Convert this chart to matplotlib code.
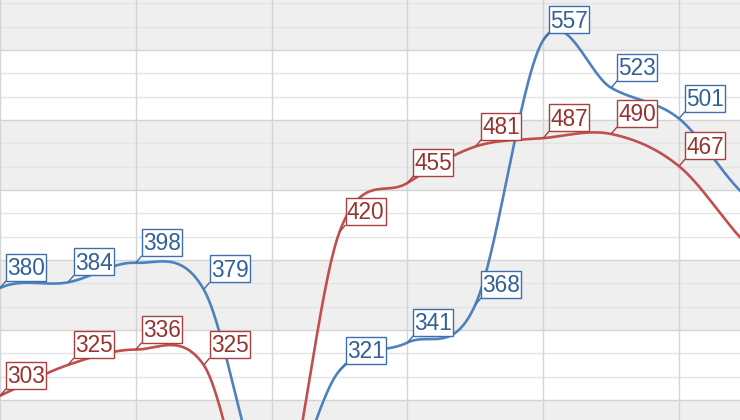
import numpy as np
import matplotlib
matplotlib.use("Agg")
import matplotlib.pyplot as plt
import matplotlib.transforms as mtransforms
from matplotlib.patches import Rectangle

# ---- data (index -1 .. 12; the visible window spans index 0 .. ~10.9) ----
point_index = list(range(-1, 13))
series_a = [340, 380, 384, 398, 379, 230, 321, 341, 368, 557, 523, 501, 445, 420]
series_b = [280, 303, 325, 336, 325, 196, 420, 455, 481, 487, 490, 467, 411, 370]

blue_line = "#4F81BD"
blue_edge = "#3F6FAA"
blue_text = "#30609A"
red_line = "#C0504D"
red_edge = "#A8403D"
red_text = "#983230"

band_color = "#EFEFEF"
major_grid = "#D4D4D4"
minor_grid = "#E4E4E4"


def catmull_rom(xs, ys, n=60):
    xs = np.asarray(xs, float)
    ys = np.asarray(ys, float)
    out_x, out_y = [], []
    for i in range(len(xs) - 1):
        y0 = ys[i - 1] if i > 0 else ys[i]
        y3 = ys[i + 2] if i + 2 < len(ys) else ys[i + 1]
        m1 = (ys[i + 1] - y0) / 2.0
        m2 = (y3 - ys[i]) / 2.0
        t = np.linspace(0, 1, n)
        h00 = 2 * t**3 - 3 * t**2 + 1
        h10 = t**3 - 2 * t**2 + t
        h01 = -2 * t**3 + 3 * t**2
        h11 = t**3 - t**2
        out_x.append(xs[i] + t * (xs[i + 1] - xs[i]))
        out_y.append(h00 * ys[i] + h10 * m1 + h01 * ys[i + 1] + h11 * m2)
    return np.concatenate(out_x), np.concatenate(out_y)


fig = plt.figure(figsize=(7.4, 4.2), dpi=100)
ax = fig.add_axes([0, 0, 1, 1])
ax.set_xlim(0, 740 / 67.9)
ax.set_ylim(285.7, 585.7)
for s in ax.spines.values():
    s.set_visible(False)
ax.set_xticks([])
ax.set_yticks([])

# alternating bands
for lo in range(250, 650, 100):
    ax.axhspan(lo, lo + 50, color=band_color, lw=0, zorder=0)
# minor grid
for v in np.arange(250, 650, 50):
    for k in (1, 2):
        ax.axhline(v + k * 50 / 3, color=minor_grid, lw=1, zorder=1)
# major grid
for v in range(250, 650, 50):
    ax.axhline(v, color=major_grid, lw=1, zorder=1)
for xi in range(0, 12, 2):
    ax.axvline(xi, color=major_grid, lw=1, zorder=1)

for vals, lc in ((series_b, red_line), (series_a, blue_line)):
    sx, sy = catmull_rom(point_index, vals)
    ax.plot(sx, sy, color=lc, lw=1.9, zorder=3, solid_capstyle="round")

# labels: pixel-sized boxes anchored at each visible data point
box_dx, box_dy, box_w, box_h = 6, 7, 40, 27
xmin, xmax = ax.get_xlim()
ymin, ymax = ax.get_ylim()
for vals, ec, tc in ((series_b, red_edge, red_text), (series_a, blue_edge, blue_text)):
    for xi, v in zip(point_index, vals):
        if not (xmin - 0.5 < xi < xmax and ymin < v < ymax):
            continue
        tr = mtransforms.IdentityTransform() + mtransforms.ScaledTranslation(xi, v, ax.transData)
        ax.plot([0, box_dx], [0, box_dy], color=ec, lw=1.0, transform=tr, zorder=5,
                solid_capstyle="butt")
        ax.add_patch(Rectangle((box_dx, box_dy), box_w, box_h, transform=tr,
                               facecolor="white", edgecolor=ec, lw=1.0, zorder=6))
        ax.text(box_dx + box_w / 2, box_dy + 5.5, str(v), transform=tr,
                ha="center", va="baseline", fontsize=16.3, color=tc,
                family=["Liberation Sans Narrow", "Liberation Sans", "DejaVu Sans"],
                zorder=7)

fig.savefig("out.png", dpi=100)
